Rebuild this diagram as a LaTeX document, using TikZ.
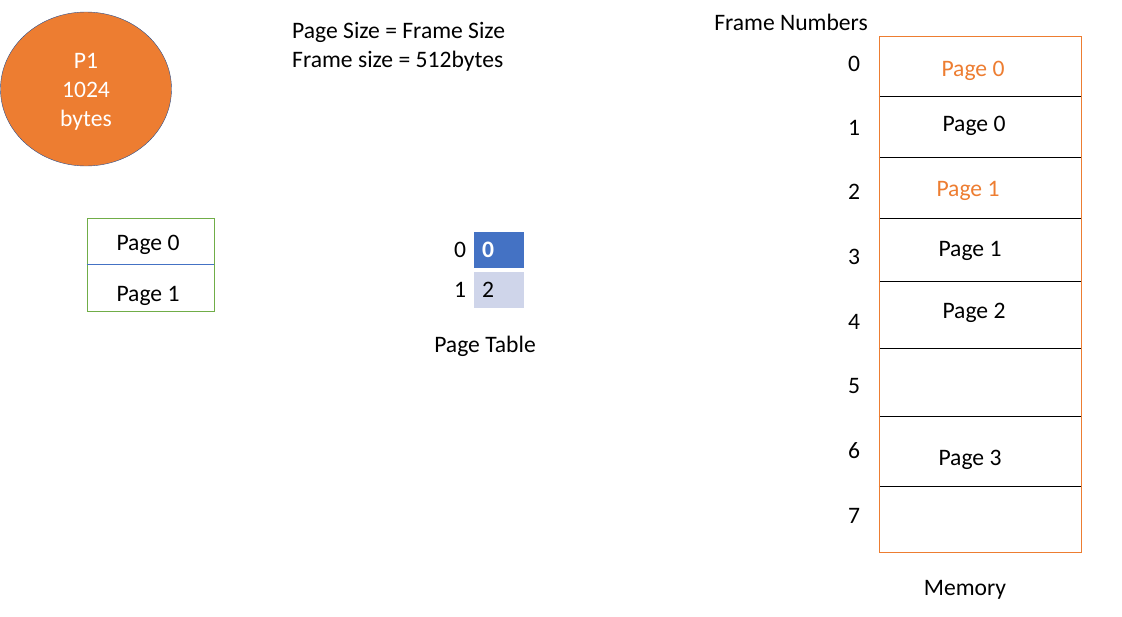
\documentclass[tikz,border=0pt]{standalone}
\usepackage{fontspec}
\setmainfont{Carlito}
\usepackage{xcolor}
\usetikzlibrary{positioning,shapes}
\tikzset{%
  txt/.style={font=\fontsize{23.6}{29}\selectfont,inner sep=0pt,yshift=-2.5pt},
  num/.style={font=\fontsize{23.6}{29}\selectfont,inner sep=0pt},
  process/.style={ellipse,draw=outline,fill=orange,minimum width=171,minimum height=154,inner sep=0pt},
  pagecell/.style={rectangle,minimum width=127,inner sep=0pt},
  framecell/.style={rectangle,minimum width=202,anchor=north,inner sep=0pt},
  tablecell/.style={rectangle,minimum width=50,minimum height=36,inner sep=0pt,text width=34,align=left,font=\fontsize{23.6}{29}\selectfont},
}
\definecolor{orange}{HTML}{ED7D31}
\definecolor{outline}{HTML}{2F528F}
\definecolor{blue}{HTML}{4472C4}
\definecolor{lightblue}{HTML}{CFD5EA}
\definecolor{green}{HTML}{70AD47}

\begin{document}
\begin{tikzpicture}[x=1pt,y=-1pt]
      \useasboundingbox (0,0) rectangle (1122,616);

      % process and its pages
      \node[process] (node_p1) at (86,89) {};
      \node[txt,text=white,align=center] (lbl_p1) at (node_p1.center) {P1\\1024\\bytes};

      \node[pagecell,minimum height=46] (node_page0) at (150.5,241) {};
      \node[pagecell,minimum height=47] (node_page1) at (150.5,287.5) {};
      \draw[green] (node_page0.north west) rectangle (node_page1.south east);
      \draw[blue] (node_page0.south west) -- (node_page0.south east);
      \node[txt] (lbl_page0) at (148,242) {Page 0};
      \node[txt] (lbl_page1) at (148,293) {Page 1};

      \node[txt,anchor=west] (node_size1) at (292,30) {Page Size = Frame Size};
      \node[txt,anchor=west] (node_size2) at (292,59) {Frame size = 512bytes};

      % page table
      \node[tablecell,fill=blue,text=white] (node_pt0) at (499,250) {\textbf{0}};
      \node[tablecell,fill=lightblue] (node_pt1) at (499,290) {2};
      \node[num] (node_idx0) at (460,250) {0};
      \node[num] (node_idx1) at (460,290) {1};
      \node[txt] (node_table) at (485,344) {Page Table};

      % memory
      \node[num] (node_frames) at (791,22) {Frame Numbers};
      \node[framecell,minimum height=60] (node_f0) at (980,36) {};
      \node[framecell,minimum height=61] (node_f1) at (980,96) {};
      \node[framecell,minimum height=61] (node_f2) at (980,157) {};
      \node[framecell,minimum height=63] (node_f3) at (980,218) {};
      \node[framecell,minimum height=67] (node_f4) at (980,281) {};
      \node[framecell,minimum height=68] (node_f5) at (980,348) {};
      \node[framecell,minimum height=70] (node_f6) at (980,416) {};
      \node[framecell,minimum height=66] (node_f7) at (980,486) {};

      \draw (node_f0.south west) -- (node_f0.south east);
      \draw (node_f1.south west) -- (node_f1.south east);
      \draw (node_f2.south west) -- (node_f2.south east);
      \draw (node_f3.south west) -- (node_f3.south east);
      \draw (node_f4.south west) -- (node_f4.south east);
      \draw (node_f5.south west) -- (node_f5.south east);
      \draw (node_f6.south west) -- (node_f6.south east);
      \draw[orange] (node_f0.north west) rectangle (node_f7.south east);

      \node[txt,text=orange] (lbl_f0) at (973,68) {Page 0};
      \node[txt] (lbl_f1) at (974,123) {Page 0};
      \node[txt,text=orange] (lbl_f2) at (968,188) {Page 1};
      \node[txt] (lbl_f3) at (970,248) {Page 1};
      \node[txt] (lbl_f4) at (974,310) {Page 2};
      \node[txt] (lbl_f6) at (970,457) {Page 3};

      \node[num] (num_0) at (854,64) {0};
      \node[num] (num_1) at (854,128) {1};
      \node[num] (num_2) at (854,192) {2};
      \node[num] (num_3) at (854,257) {3};
      \node[num] (num_4) at (854,322) {4};
      \node[num] (num_5) at (854,386) {5};
      \node[num] (num_6) at (854,451) {6};
      \node[num] (num_7) at (854,516) {7};

      \node[txt] (node_memory) at (965,587) {Memory};
    \end{tikzpicture}
\end{document}
